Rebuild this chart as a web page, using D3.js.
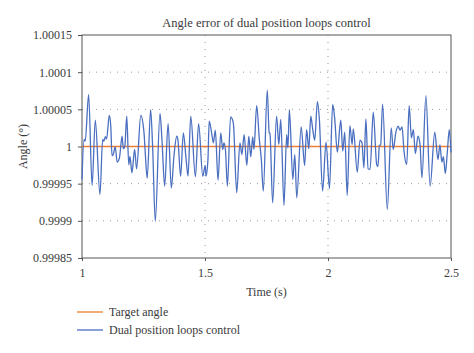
<html>
  <head>
    <title>Angle error</title>
    <meta charset="utf-8" />
    <script src="https://cdnjs.cloudflare.com/ajax/libs/d3/7.6.1/d3.min.js"></script>
    <style>
      body { margin: 0; background: #fff; }
      text { font-family: "Liberation Serif", "DejaVu Serif", serif; fill: #3a3a3a; }
      .axis path, .axis line { stroke: #555; }
      .axis text { font-size: 12px; fill: #3a3a3a; font-family: "Liberation Serif", serif; }
      .grid line { stroke: #999; stroke-dasharray: 1, 6; }
    </style>
  </head>
  <body>
    <svg width="474" height="353"></svg>
  </body>

  <script>
    // time (s) and deviation from 1 degree, in units of 1e-5 degree
    const time = [
      1.000, 1.008, 1.013, 1.027, 1.041, 1.054, 1.073, 1.084, 1.089, 1.095,
      1.100, 1.111, 1.117, 1.122, 1.127, 1.135, 1.143, 1.152, 1.163, 1.168,
      1.174, 1.182, 1.190, 1.195, 1.203, 1.214, 1.222, 1.239, 1.252, 1.257,
      1.265, 1.279, 1.287, 1.298, 1.317, 1.325, 1.336, 1.350, 1.363, 1.374,
      1.385, 1.390, 1.401, 1.412, 1.423, 1.431, 1.442, 1.461, 1.474, 1.491,
      1.501, 1.504, 1.512, 1.517, 1.528, 1.534, 1.542, 1.553, 1.564, 1.572,
      1.577, 1.583, 1.591, 1.604, 1.615, 1.629, 1.642, 1.650, 1.659, 1.670,
      1.678, 1.686, 1.694, 1.699, 1.710, 1.721, 1.729, 1.737, 1.753, 1.761,
      1.764, 1.775, 1.791, 1.800, 1.808, 1.821, 1.832, 1.837, 1.843, 1.857,
      1.865, 1.873, 1.891, 1.905, 1.913, 1.922, 1.930, 1.938, 1.946, 1.957,
      1.965, 1.978, 1.992, 2.006, 2.019, 2.027, 2.038, 2.052, 2.060, 2.068,
      2.078, 2.089, 2.098, 2.103, 2.119, 2.130, 2.138, 2.146, 2.154, 2.163,
      2.171, 2.184, 2.198, 2.203, 2.209, 2.214, 2.222, 2.241, 2.257, 2.265,
      2.276, 2.285, 2.293, 2.301, 2.309, 2.320, 2.330, 2.339, 2.347, 2.355,
      2.366, 2.374, 2.382, 2.398, 2.415, 2.434, 2.447, 2.455, 2.463, 2.469,
      2.477, 2.485, 2.493, 2.500
    ];
    const deviation = [
      -4.44, 0.94, 0.71, 6.99, -5.24, 3.53, -6.45, 0.94, 0.71, 1.34,
      1.03, 4.17, 2.73, -1.21, -1.08, -0.04, -2.11, -1.57, 1.38, -0.31,
      0.04, 4.07, -2.46, -1.34, -3.53, -0.40, -3.00, 4.17, 1.88, -0.81,
      -4.26, 4.97, 0.04, -10.04, 4.44, 0.94, -5.34, 3.09, -5.60, -1.21,
      1.38, 0.85, -3.99, 1.84, -1.65, -3.99, 4.07, -4.07, 3.09, -3.99,
      -2.55, -3.99, -1.75, 3.40, 1.61, 0.50, 2.19, -4.53, 1.84, -0.40,
      0.50, -0.40, -5.34, 3.99, 3.19, -6.22, 0.50, -1.08, 1.61, -2.55,
      1.38, -1.38, 1.30, -0.40, 5.51, 0.94, -1.75, -6.01, 7.57, 1.84,
      1.75, -7.57, 4.07, 0.27, 3.63, -7.93, 1.61, -0.17, 4.97, -4.44,
      -1.08, -6.90, 2.65, -2.55, 2.28, -0.31, 4.07, 2.28, 0.85, 6.05,
      3.63, -6.01, 0.58, -5.65, 5.65, 3.86, -0.77, 3.53, -0.63, 1.92,
      -6.59, 2.82, 0.27, 2.38, -3.45, 0.85, 0.50, -2.86, 3.72, -3.00,
      -3.09, 4.61, -2.46, -2.69, 0.13, 0.23, 5.69, -8.47, 2.51, -0.40,
      1.92, 2.73, 2.19, 2.65, -0.63, -2.42, 5.51, 1.17, 2.28, -0.94,
      1.38, 0.27, -4.21, 6.85, -5.34, 1.92, -1.75, 0.23, -2.11, -1.38,
      -3.63, -0.77, 2.28, -0.81
    ];
    const targetAngle = 1;
    const xTicks = [1, 1.5, 2, 2.5];
    const yTicks = [0.99985, 0.9999, 0.99995, 1, 1.00005, 1.0001, 1.00015];
    const yTickLabels = ["0.99985", "0.9999", "0.99995", "1", "1.00005", "1.0001", "1.00015"];

    const data = time.map((t, i) => ({ t: t, a: targetAngle + deviation[i] * 1e-5 }));

    let svg = d3.select("svg"),
      margin = { top: 35, right: 23, bottom: 95, left: 82 },
      width = +svg.attr("width") - margin.left - margin.right,
      height = +svg.attr("height") - margin.top - margin.bottom;

    let x = d3.scaleLinear().domain([1, 2.5]).range([0, width]),
      y = d3.scaleLinear().domain([0.99985, 1.00015]).range([height, 0]);

    let g = svg.append("g").attr("transform", `translate(${margin.left},${margin.top})`);

    // dotted grid
    g.append("g")
      .attr("class", "grid")
      .selectAll("line.h")
      .data(yTicks.slice(1, -1))
      .enter()
      .append("line")
      .attr("x1", 0)
      .attr("x2", width)
      .attr("y1", (d) => y(d))
      .attr("y2", (d) => y(d));

    g.append("g")
      .attr("class", "grid")
      .selectAll("line.v")
      .data(xTicks.slice(1, -1))
      .enter()
      .append("line")
      .attr("y1", 0)
      .attr("y2", height)
      .attr("x1", (d) => x(d))
      .attr("x2", (d) => x(d));

    // frame
    g.append("rect")
      .attr("width", width)
      .attr("height", height)
      .attr("fill", "none")
      .attr("stroke", "#555");

    g.append("g")
      .attr("class", "axis axis--x")
      .attr("transform", `translate(0,${height})`)
      .call(d3.axisBottom(x).tickValues(xTicks).tickFormat(d3.format("")).tickSize(3).tickSizeOuter(0).tickPadding(7));

    g.append("g")
      .attr("class", "axis axis--y")
      .call(
        d3.axisLeft(y)
          .tickValues(yTicks)
          .tickFormat((d, i) => yTickLabels[i])
          .tickSize(4)
          .tickSizeOuter(0)
          .tickPadding(6)
      );

    g.selectAll(".axis .domain").remove();

    // target line
    g.append("line")
      .attr("x1", x(1))
      .attr("x2", x(2.5))
      .attr("y1", y(targetAngle))
      .attr("y2", y(targetAngle))
      .attr("stroke", "#ed7d31")
      .attr("stroke-width", 1.3);

    let line = d3.line()
      .x((d) => x(d.t))
      .y((d) => y(d.a))
      .curve(d3.curveMonotoneX);

    g.append("path")
      .datum(data)
      .attr("fill", "none")
      .attr("stroke", "#4a6fc0")
      .attr("stroke-width", 1.3)
      .attr("d", line);

    // titles
    svg.append("text")
      .attr("x", margin.left + width / 2)
      .attr("y", 27)
      .attr("text-anchor", "middle")
      .attr("font-size", 12.5)
      .text("Angle error of dual position loops control");

    svg.append("text")
      .attr("x", margin.left + width / 2)
      .attr("y", 296)
      .attr("text-anchor", "middle")
      .attr("font-size", 12)
      .text("Time (s)");

    svg.append("text")
      .attr("transform", `translate(27,${margin.top + height / 2}) rotate(-90)`)
      .attr("text-anchor", "middle")
      .attr("font-size", 12)
      .text("Angle (°)");

    // legend
    const legend = [
      { name: "Target angle", color: "#ed7d31" },
      { name: "Dual position loops control", color: "#4a6fc0" }
    ];
    let lg = svg.append("g").selectAll("g").data(legend).enter().append("g")
      .attr("transform", (d, i) => `translate(77,${312 + i * 18})`);
    lg.append("line")
      .attr("x1", 0).attr("x2", 26)
      .attr("stroke", (d) => d.color)
      .attr("stroke-width", 1.3);
    lg.append("text")
      .attr("x", 32)
      .attr("dy", "0.35em")
      .attr("font-size", 12)
      .text((d) => d.name);
  </script>
</html>
